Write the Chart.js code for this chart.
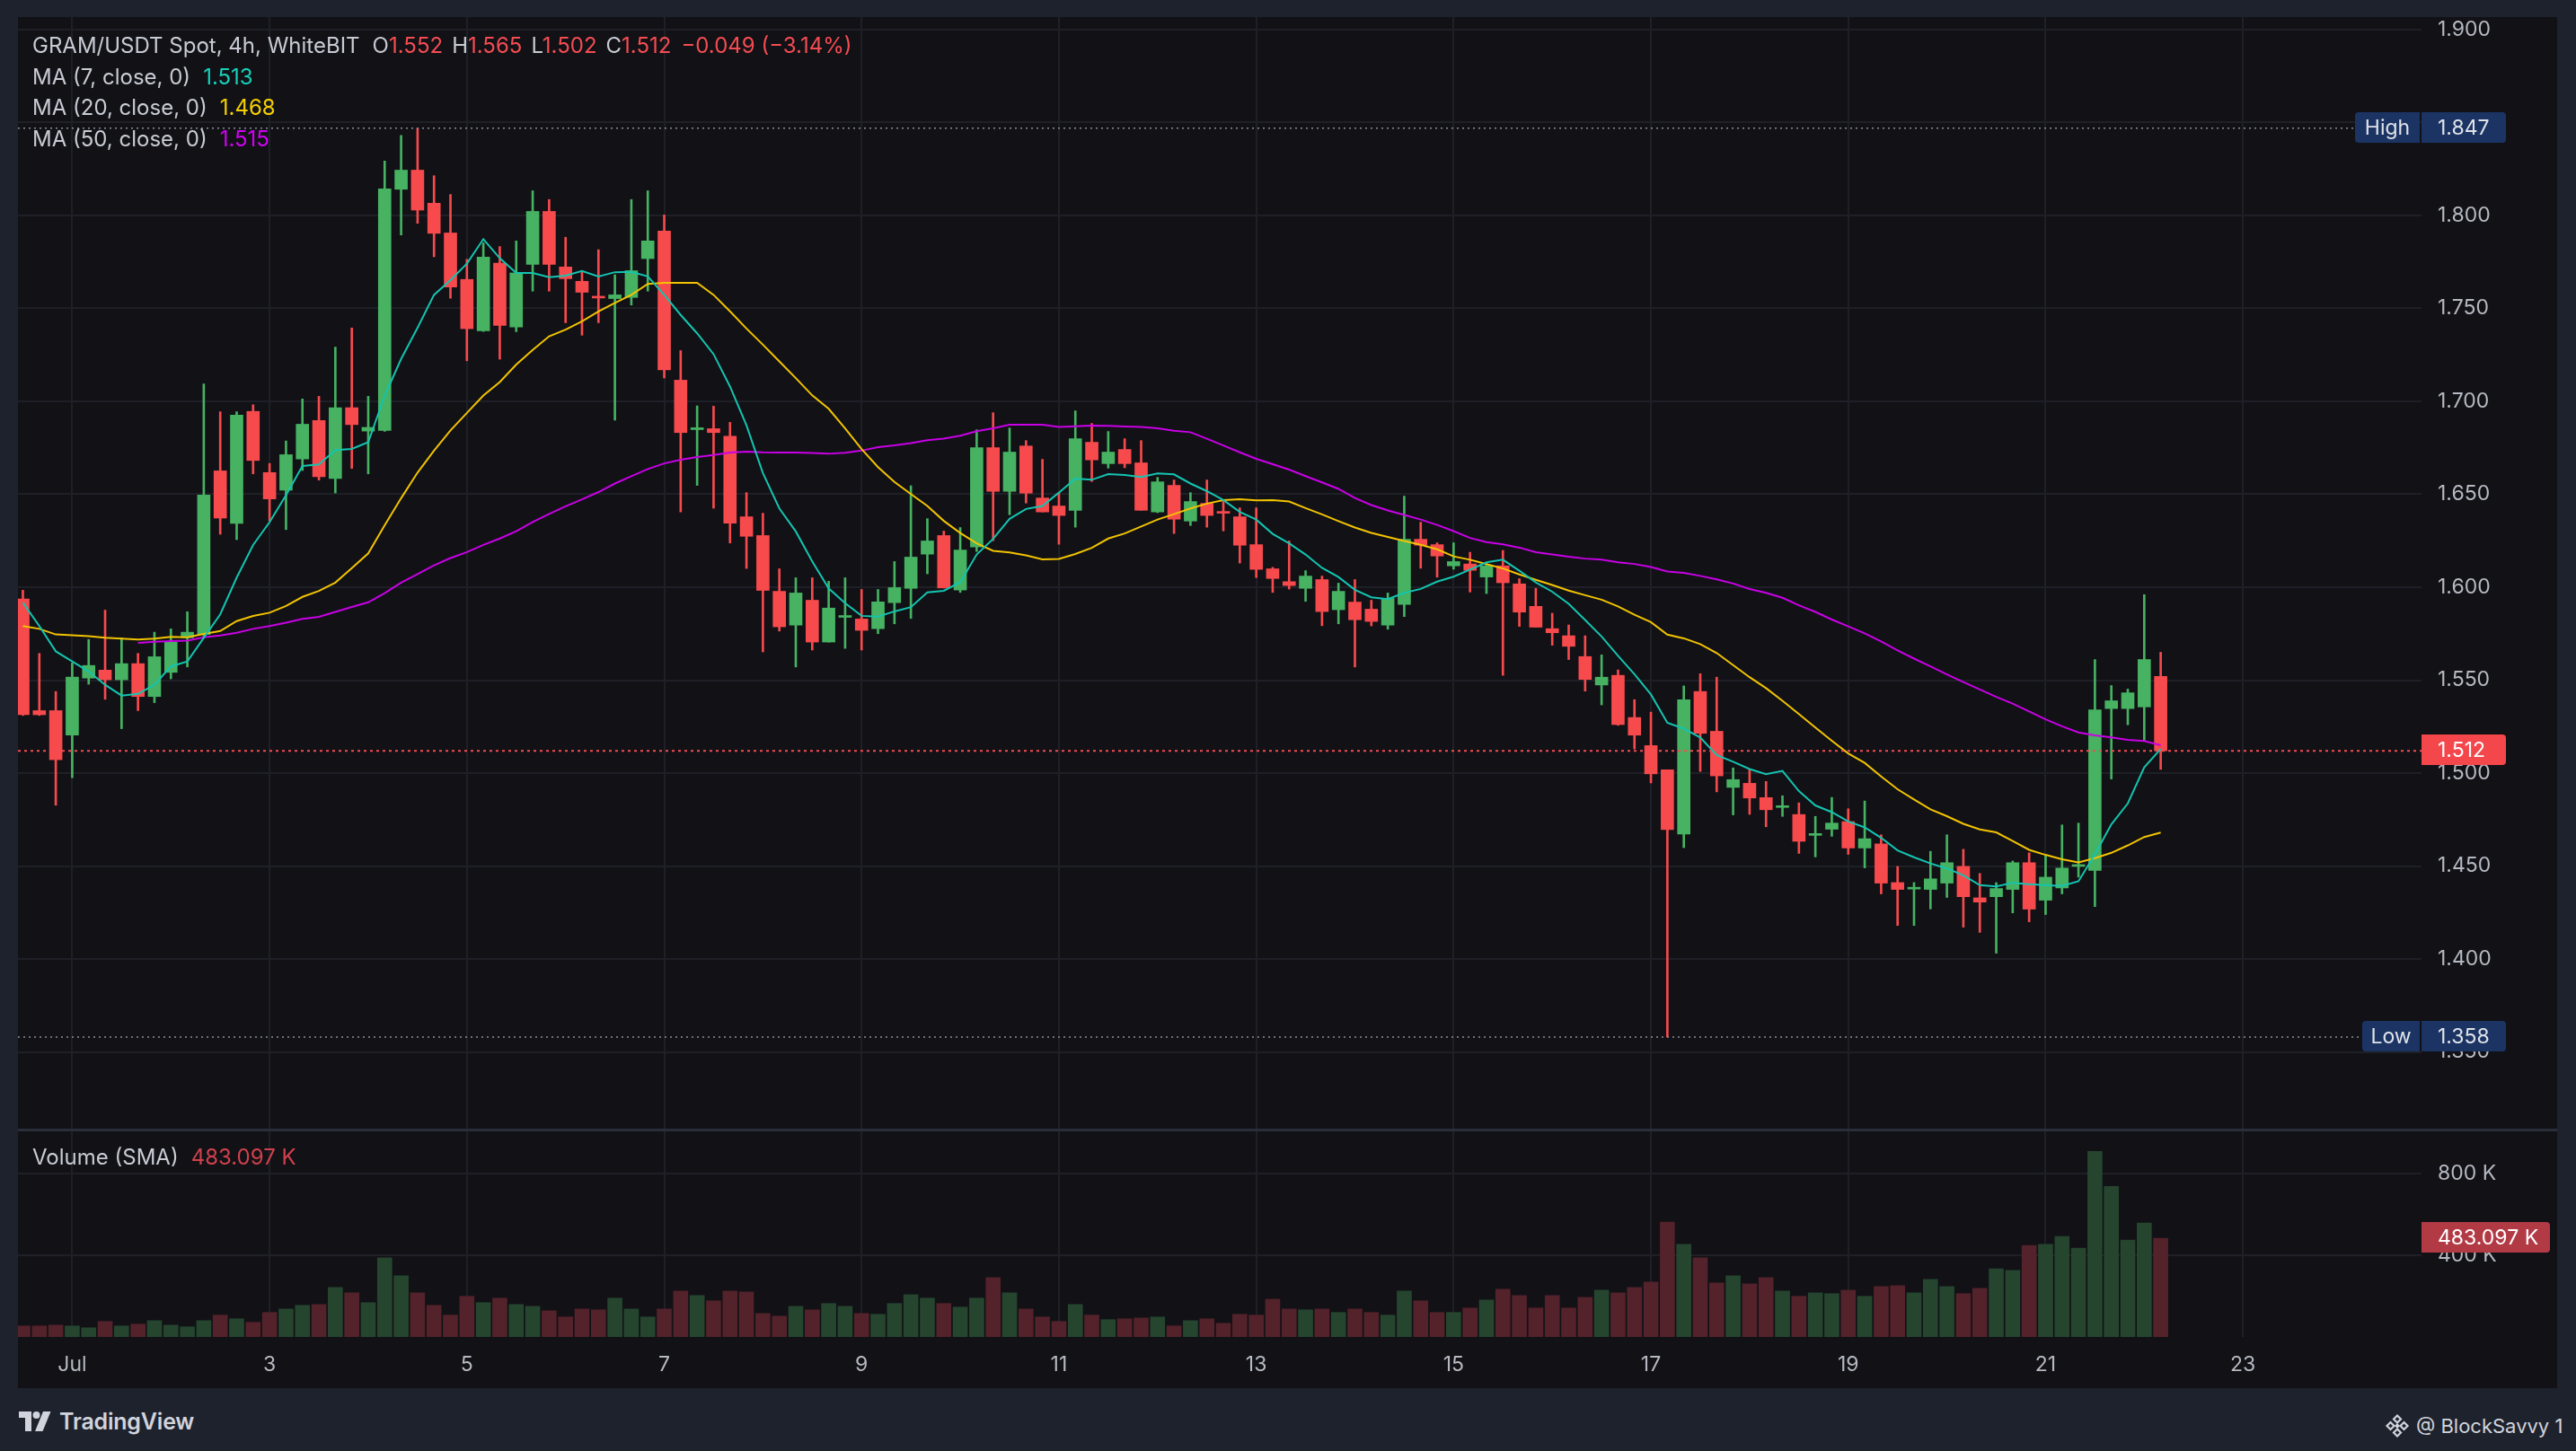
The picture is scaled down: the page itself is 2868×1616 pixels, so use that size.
<!DOCTYPE html>
<html>
<head>
<meta charset="utf-8">
<script src="https://cdn.jsdelivr.net/npm/chart.js@4.4.1/dist/chart.umd.min.js"></script>
<style>
  html, body { margin: 0; padding: 0; }
  body { width: 2868px; height: 1616px; background: #1e222d; position: relative; overflow: hidden;
         font-family: Inter, "Noto Sans", sans-serif; }
  .pane { position: absolute; left: 20px; top: 19px; width: 2827px; height: 1527px; background: #111116; }
  .sep { position: absolute; left: 20px; top: 1257px; width: 2827px; height: 3px; background: #2a2e39; }
  canvas { position: absolute; left: 20px; }
  .legend { position: absolute; left: 36px; top: 34px; font-size: 24px; line-height: 34.5px; color: #c8cbd3; white-space: nowrap; }
  .vol { position: absolute; left: 36px; top: 1272px; font-size: 24px; line-height: 34px; color: #c8cbd3; white-space: nowrap; }
  .r { color: #f44c52; }
  .brand { position: absolute; left: 21px; top: 1568px; height: 30px; display: flex; align-items: center; color: #d1d4dc;
           font-size: 25px; font-weight: 600; letter-spacing: -0.2px; }
  .brand svg { margin-right: 9px; }
  .mark { position: absolute; left: 2655px; top: 1572px; height: 32px; display: flex; align-items: center; color: #d1d4dc;
          font-size: 22px; white-space: nowrap; }
  .mark svg { margin-right: 7px; }
</style>
</head>
<body>
<div class="pane"></div>
<canvas id="price" width="2827" height="1238" style="top:19px"></canvas>
<div class="sep"></div>
<canvas id="volume" width="2827" height="286" style="top:1260px"></canvas>

<div class="legend">
  <div>GRAM/USDT Spot, 4h, WhiteBIT<span style="margin-left:14px">O</span><span class="r">1.552</span><span style="margin-left:10px">H</span><span class="r">1.565</span><span style="margin-left:10px">L</span><span class="r">1.502</span><span style="margin-left:10px">C</span><span class="r">1.512</span><span class="r" style="margin-left:11px">−0.049 (−3.14%)</span></div>
  <div>MA (7, close, 0)<span style="margin-left:14px;color:#17d0b9">1.513</span></div>
  <div>MA (20, close, 0)<span style="margin-left:14px;color:#f5cf00">1.468</span></div>
  <div>MA (50, close, 0)<span style="margin-left:14px;color:#d000f2">1.515</span></div>
</div>
<div class="vol">Volume (SMA)<span style="margin-left:14px;color:#d0414c">483.097 K</span></div>

<div class="brand">
  <svg width="36" height="22" viewBox="0 0 36 22"><path d="M0 0h14v22h-7v-15h-7z" fill="#d1d4dc"/><circle cx="19.5" cy="4" r="4" fill="#d1d4dc"/><path d="M27 0h8.5l-9 22h-8.5z" fill="#d1d4dc"/></svg>
  <span>TradingView</span>
</div>
<div class="mark">
  <svg width="28" height="28" viewBox="0 0 28 28"><g fill="none" stroke="#d1d4dc" stroke-width="2.2"><path d="M14 2.5l4 4-4 4-4-4z"/><path d="M14 17.5l4 4-4 4-4-4z"/><path d="M2.5 14l4-4 4 4-4 4z"/><path d="M17.5 14l4-4 4 4-4 4z"/></g><path d="M14 11l3 3-3 3-3-3z" fill="#d1d4dc"/></svg>
  <span>@ BlockSavvy 1</span>
</div>

<script>
// 4h candles, index 0 = Jun 30 12:00, index 130 = Jul 22 04:00
const opens = [1.5937,1.5336,1.5336,1.5204,1.5511,1.5554,1.5502,1.5589,1.5412,1.5542,
  1.5728,1.5746,1.6626,1.6343,1.6946,1.6617,1.6522,1.6690,1.6897,1.6585,
  1.6966,1.6840,1.6843,1.8141,1.8244,1.8066,1.7906,1.7656,1.7380,1.7743,
  1.7400,1.7737,1.8022,1.7723,1.7646,1.7562,1.7553,1.7559,1.7768,1.7916,
  1.7114,1.6848,1.6853,1.6812,1.6379,1.6278,1.5978,1.5796,1.5930,1.5705,
  1.5838,1.5829,1.5777,1.5917,1.5994,1.6178,1.6278,1.5985,1.6216,1.6751,
  1.6516,1.6760,1.6480,1.6437,1.6414,1.6780,1.6665,1.6741,1.6669,1.6405,
  1.6548,1.6356,1.6451,1.6404,1.6379,1.6229,1.6099,1.6030,1.5994,1.6041,
  1.5879,1.5920,1.5882,1.5796,1.5907,1.6258,1.6229,1.6115,1.6125,1.6055,
  1.6115,1.6018,1.5897,1.5777,1.5739,1.5627,1.5474,1.5526,1.5299,1.5148,
  1.5018,1.4672,1.5439,1.5225,1.4923,1.4945,1.4868,1.4815,1.4777,1.4665,
  1.4698,1.4739,1.4597,1.4619,1.4411,1.4376,1.4374,1.4408,1.4498,1.4329,
  1.4335,1.4374,1.4518,1.4316,1.4382,1.4498,1.4476,1.5347,1.5347,1.5356,
  1.5520];
const highs = [1.5984,1.5644,1.5439,1.5592,1.5719,1.5877,1.5728,1.5644,1.5758,1.5776,
  1.5868,1.7094,1.6944,1.6944,1.6982,1.6666,1.6787,1.7013,1.7027,1.7292,
  1.7395,1.7027,1.8293,1.8431,1.8470,1.8214,1.8113,1.7764,1.7853,1.7833,
  1.7863,1.8133,1.8086,1.7883,1.7701,1.7816,1.7681,1.8086,1.8133,1.8003,
  1.7273,1.6976,1.6974,1.6887,1.6509,1.6398,1.6099,1.6051,1.6051,1.6032,
  1.6051,1.5988,1.5988,1.6138,1.6546,1.6369,1.6302,1.6321,1.6847,1.6939,
  1.6857,1.6789,1.6688,1.6509,1.6949,1.6881,1.6838,1.6799,1.6789,1.6591,
  1.6577,1.6509,1.6577,1.6461,1.6427,1.6427,1.6107,1.6249,1.6089,1.6060,
  1.6022,1.6041,1.5930,1.5969,1.6490,1.6350,1.6239,1.6239,1.6188,1.6125,
  1.6198,1.6046,1.5994,1.5860,1.5797,1.5739,1.5636,1.5555,1.5395,1.5328,
  1.5018,1.5469,1.5535,1.5516,1.5028,1.5018,1.4955,1.4878,1.4840,1.4767,
  1.4869,1.4808,1.4850,1.4668,1.4498,1.4411,1.4579,1.4668,1.4590,1.4460,
  1.4411,1.4527,1.4571,1.4555,1.4721,1.4731,1.5611,1.5471,1.5452,1.5960,
  1.5650];
const lows = [1.5310,1.5310,1.4827,1.4975,1.5478,1.5397,1.5239,1.5336,1.5379,1.5507,
  1.5571,1.5728,1.6285,1.6256,1.6610,1.6357,1.6310,1.6628,1.6576,1.6507,
  1.6639,1.6610,1.6838,1.7895,1.7958,1.7778,1.7555,1.7218,1.7376,1.7227,
  1.7375,1.7593,1.7593,1.7423,1.7356,1.7423,1.6899,1.7518,1.7593,1.7126,
  1.6405,1.6548,1.6425,1.6238,1.6101,1.5652,1.5764,1.5571,1.5662,1.5705,
  1.5671,1.5662,1.5750,1.5803,1.5832,1.6072,1.5996,1.5972,1.6192,1.6250,
  1.6390,1.6453,1.6405,1.6231,1.6323,1.6569,1.6641,1.6643,1.6414,1.6401,
  1.6289,1.6332,1.6323,1.6303,1.6130,1.6052,1.5972,1.5990,1.5924,1.5793,
  1.5803,1.5571,1.5792,1.5774,1.5842,1.6102,1.6054,1.6097,1.5974,1.5966,
  1.5526,1.5789,1.5785,1.5688,1.5611,1.5441,1.5367,1.5257,1.5130,1.4947,
  1.3580,1.4599,1.5009,1.4899,1.4775,1.4778,1.4711,1.4767,1.4568,1.4549,
  1.4660,1.4563,1.4490,1.4350,1.4180,1.4180,1.4269,1.4331,1.4171,1.4143,
  1.4031,1.4248,1.4200,1.4239,1.4350,1.4440,1.4282,1.4968,1.5260,1.5173,
  1.5020];
const closes = [1.5314,1.5314,1.5072,1.5516,1.5579,1.5502,1.5589,1.5412,1.5626,1.5704,
  1.5758,1.6496,1.6372,1.6926,1.6682,1.6475,1.6713,1.6877,1.6594,1.6966,
  1.6875,1.6860,1.8143,1.8244,1.8029,1.7904,1.7615,1.7391,1.7776,1.7409,
  1.7691,1.8022,1.7737,1.7660,1.7587,1.7556,1.7573,1.7703,1.7863,1.7169,
  1.6832,1.6858,1.6832,1.6345,1.6274,1.5983,1.5787,1.5969,1.5705,1.5888,
  1.5843,1.5768,1.5921,1.5998,1.6162,1.6249,1.5996,1.6200,1.6751,1.6516,
  1.6727,1.6506,1.6405,1.6386,1.6799,1.6685,1.6727,1.6665,1.6414,1.6567,
  1.6366,1.6461,1.6386,1.6398,1.6226,1.6096,1.6047,1.6009,1.6060,1.5869,
  1.5978,1.5825,1.5816,1.5940,1.6258,1.6226,1.6168,1.6138,1.6091,1.6115,
  1.6024,1.5866,1.5785,1.5755,1.5682,1.5504,1.5516,1.5261,1.5204,1.4996,
  1.4696,1.5395,1.5214,1.4985,1.4965,1.4866,1.4803,1.4821,1.4633,1.4671,
  1.4731,1.4597,1.4647,1.4408,1.4374,1.4382,1.4431,1.4518,1.4335,1.4306,
  1.4379,1.4518,1.4268,1.4440,1.4489,1.4504,1.5340,1.5389,1.5432,1.5611,
  1.5120];
// volume in thousands
const volumesK = [54,54,58,54,45,76,54,63,80,58,
  50,80,107,89,72,120,137,155,159,242,
  216,168,387,299,216,155,107,199,168,190,
  159,150,128,98,137,133,190,137,98,137,
  225,203,177,225,220,115,102,150,133,164,
  150,115,111,164,207,190,164,146,190,291,
  216,137,98,76,159,107,85,89,93,98,
  54,80,89,67,111,107,185,137,133,137,
  120,137,120,107,225,177,120,120,142,181,
  234,203,142,203,142,194,229,216,242,269,
  562,453,387,264,299,260,291,225,199,216,
  212,229,199,247,251,216,282,247,212,238,
  334,326,448,453,492,435,908,737,474,558,
  483.097];
const ma7 = [1.5917,1.5791,1.5655,1.5601,1.5547,1.5475,1.5417,1.5426,1.5475,1.5574,
  1.5601,1.5728,1.5854,1.6052,1.6227,1.6350,1.6495,1.6652,1.6661,1.6738,
  1.6744,1.6780,1.7030,1.7228,1.7396,1.7573,1.7652,1.7741,1.7873,1.7770,
  1.7691,1.7691,1.7668,1.7676,1.7701,1.7672,1.7695,1.7697,1.7672,1.7573,
  1.7465,1.7366,1.7254,1.7080,1.6871,1.6614,1.6424,1.6300,1.6139,1.5994,
  1.5914,1.5846,1.5842,1.5870,1.5893,1.5972,1.5981,1.6027,1.6176,1.6260,
  1.6368,1.6421,1.6437,1.6509,1.6585,1.6578,1.6609,1.6604,1.6593,1.6612,
  1.6607,1.6558,1.6517,1.6469,1.6405,1.6364,1.6287,1.6236,1.6176,1.6104,
  1.6055,1.5986,1.5946,1.5936,1.5970,1.5991,1.6030,1.6057,1.6095,1.6134,
  1.6148,1.6089,1.6026,1.5976,1.5911,1.5824,1.5735,1.5631,1.5532,1.5423,
  1.5271,1.5239,1.5192,1.5097,1.5061,1.5022,1.4994,1.5012,1.4903,1.4826,
  1.4790,1.4740,1.4708,1.4652,1.4584,1.4547,1.4514,1.4487,1.4450,1.4397,
  1.4390,1.4410,1.4402,1.4397,1.4393,1.4418,1.4563,1.4724,1.4837,1.5031,
  1.5130];
const ma20 = [1.5791,1.5776,1.5746,1.5742,1.5737,1.5728,1.5724,1.5719,1.5724,1.5733,
  1.5731,1.5749,1.5764,1.5818,1.5845,1.5863,1.5899,1.5948,1.5980,1.6025,
  1.6103,1.6182,1.6333,1.6479,1.6617,1.6735,1.6844,1.6938,1.7031,1.7104,
  1.7198,1.7277,1.7350,1.7386,1.7431,1.7484,1.7530,1.7573,1.7632,1.7638,
  1.7638,1.7638,1.7573,1.7484,1.7392,1.7305,1.7215,1.7125,1.7032,1.6960,
  1.6855,1.6743,1.6646,1.6566,1.6501,1.6437,1.6357,1.6292,1.6236,1.6196,
  1.6187,1.6171,1.6150,1.6152,1.6179,1.6212,1.6262,1.6289,1.6327,1.6364,
  1.6393,1.6424,1.6450,1.6469,1.6474,1.6467,1.6469,1.6461,1.6426,1.6392,
  1.6356,1.6321,1.6292,1.6271,1.6249,1.6228,1.6204,1.6166,1.6148,1.6124,
  1.6101,1.6069,1.6040,1.6012,1.5982,1.5957,1.5933,1.5897,1.5852,1.5812,
  1.5745,1.5725,1.5694,1.5646,1.5581,1.5516,1.5457,1.5389,1.5318,1.5245,
  1.5174,1.5106,1.5055,1.4982,1.4913,1.4858,1.4805,1.4768,1.4727,1.4697,
  1.4681,1.4635,1.4587,1.4560,1.4536,1.4519,1.4542,1.4571,1.4611,1.4656,
  1.4680];
const ma50 = [null,null,null,null,null,null,null,1.5700,1.5706,1.5710,
  1.5713,1.5731,1.5740,1.5755,1.5776,1.5791,1.5809,1.5830,1.5841,1.5867,
  1.5894,1.5919,1.5968,1.6025,1.6071,1.6118,1.6157,1.6189,1.6228,1.6262,
  1.6301,1.6351,1.6394,1.6435,1.6473,1.6512,1.6558,1.6597,1.6636,1.6666,
  1.6686,1.6700,1.6711,1.6725,1.6730,1.6726,1.6725,1.6725,1.6722,1.6718,
  1.6723,1.6735,1.6754,1.6763,1.6775,1.6791,1.6799,1.6815,1.6839,1.6855,
  1.6874,1.6874,1.6874,1.6862,1.6866,1.6870,1.6868,1.6865,1.6862,1.6855,
  1.6842,1.6834,1.6799,1.6763,1.6726,1.6691,1.6662,1.6633,1.6598,1.6564,
  1.6529,1.6480,1.6442,1.6413,1.6389,1.6364,1.6335,1.6302,1.6265,1.6243,
  1.6231,1.6213,1.6188,1.6176,1.6164,1.6154,1.6148,1.6134,1.6125,1.6109,
  1.6085,1.6077,1.6061,1.6042,1.6020,1.5990,1.5970,1.5943,1.5903,1.5867,
  1.5826,1.5789,1.5752,1.5708,1.5660,1.5616,1.5574,1.5531,1.5490,1.5450,
  1.5410,1.5374,1.5332,1.5289,1.5252,1.5219,1.5203,1.5192,1.5179,1.5173,
  1.5150];

const dayTicks = [3, 15, 27, 39, 51, 63, 75, 87, 99, 111, 123, 135];
const dayLabels = ['Jul', '3', '5', '7', '9', '11', '13', '15', '17', '19', '21', '23'];
const priceTicks = [1.35, 1.40, 1.45, 1.50, 1.55, 1.60, 1.65, 1.70, 1.75, 1.80, 1.85, 1.90];
const volumeTicks = [400000, 800000];
const periodHigh = 1.847;
const periodLow = 1.358;
const lastPrice = 1.512;
const lastVolume = 483097;

const X_MIN = -0.3, X_MAX = 145.86;
const UP = '#46b262', DOWN = '#f74a4d';
const UP_VOL = '#25452f', DOWN_VOL = '#53222a';
const GRID = '#1f2027';
const AXIS_TEXT = '#b6b9c1';
const AXIS_W = 151;

Chart.defaults.font.family = 'Inter, "Noto Sans", sans-serif';
Chart.defaults.animation = false;

const isUp = opens.map((o, i) => closes[i] >= o);
const bodies = opens.map((o, i) => ({ x: i, y: [o, closes[i]] }));
const wicks = lows.map((l, i) => ({ x: i, y: [l, highs[i]] }));
const series = arr => arr.map((v, i) => ({ x: i, y: v }));
const hline = v => [{ x: X_MIN, y: v }, { x: X_MAX, y: v }];

// boxes on the price axis (High / Low / last price)
const axisBadges = {
  id: 'axisBadges',
  afterDraw(chart, args, opts) {
    const ctx = chart.ctx;
    const area = chart.chartArea;
    const ys = chart.scales.y;
    ctx.save();
    ctx.font = '23px Inter, "Noto Sans", sans-serif';
    ctx.textBaseline = 'middle';
    for (const b of opts.items) {
      const py = Math.round(ys.getPixelForValue(b.value));
      ctx.fillStyle = b.bg;
      ctx.beginPath();
      ctx.roundRect(area.right, py - 18, b.w, 34, [0, 4, 4, 0]);
      ctx.fill();
      ctx.fillStyle = b.fg;
      ctx.textAlign = 'left';
      ctx.fillText(b.text, area.right + 18, py);
      if (b.label) {
        ctx.fillStyle = b.bg;
        ctx.beginPath();
        ctx.roundRect(area.right - 2 - b.lw, py - 18, b.lw, 34, [4, 0, 0, 4]);
        ctx.fill();
        ctx.fillStyle = b.fg;
        ctx.textAlign = 'center';
        ctx.fillText(b.label, area.right - 2 - b.lw / 2, py);
      }
    }
    ctx.restore();
  }
};

const xAxis = (showLabels) => ({
  type: 'linear',
  min: X_MIN,
  max: X_MAX,
  offset: false,
  afterBuildTicks: s => { s.ticks = dayTicks.map(v => ({ value: v })); },
  grid: { color: GRID, lineWidth: 2, drawTicks: false, offset: false },
  border: { display: false },
  ticks: {
    display: showLabels,
    color: AXIS_TEXT,
    font: { size: 23 },
    padding: 17,
    maxRotation: 0,
    autoSkip: false,
    callback: v => dayLabels[dayTicks.indexOf(v)]
  },
  afterFit: s => { s.height = showLabels ? 57 : 0; s.paddingLeft = 0; s.paddingRight = 0; }
});

const yAxis = (min, max, ticks, fmt) => ({
  position: 'right',
  min: min,
  max: max,
  afterBuildTicks: s => { s.ticks = ticks.map(v => ({ value: v })); },
  grid: { color: GRID, lineWidth: 2, drawTicks: false },
  border: { display: false },
  ticks: { color: AXIS_TEXT, font: { size: 23 }, padding: 18, callback: fmt },
  afterFit: s => { s.width = AXIS_W; s.paddingTop = 0; s.paddingBottom = 0; }
});

new Chart(document.getElementById('price'), {
  type: 'bar',
  data: {
    datasets: [
      { type: 'line', data: hline(lastPrice), borderColor: '#f44c52', borderWidth: 2, borderDash: [3, 4],
        pointRadius: 0, order: 0 },
      { type: 'line', data: hline(periodHigh), borderColor: '#8b8e97', borderWidth: 1.5, borderDash: [2, 4],
        pointRadius: 0, order: 0 },
      { type: 'line', data: hline(periodLow), borderColor: '#8b8e97', borderWidth: 1.5, borderDash: [2, 4],
        pointRadius: 0, order: 0 },
      { type: 'line', data: series(ma7), borderColor: '#14c4b0', borderWidth: 2, pointRadius: 0, order: 1 },
      { type: 'line', data: series(ma20), borderColor: '#f2c300', borderWidth: 2, pointRadius: 0, order: 1 },
      { type: 'line', data: series(ma50), borderColor: '#c900e6', borderWidth: 2, pointRadius: 0, order: 1 },
      { data: bodies, backgroundColor: isUp.map(u => u ? UP : DOWN), barThickness: 14, minBarLength: 2,
        grouped: false, order: 2 },
      { data: wicks, backgroundColor: isUp.map(u => u ? UP : DOWN), barThickness: 2,
        grouped: false, order: 3 }
    ]
  },
  options: {
    responsive: false,
    events: [],
    layout: { padding: 0 },
    plugins: {
      legend: { display: false },
      tooltip: { enabled: false },
      axisBadges: {
        items: [
          { value: periodHigh, text: periodHigh.toFixed(3), label: 'High', lw: 72, w: 94, bg: '#1b3464', fg: '#dfe2e8' },
          { value: periodLow, text: periodLow.toFixed(3), label: 'Low', lw: 64, w: 94, bg: '#1b3464', fg: '#dfe2e8' },
          { value: lastPrice, text: lastPrice.toFixed(3), w: 94, bg: '#f4474c', fg: '#ffffff' }
        ]
      }
    },
    scales: {
      x: xAxis(false),
      y: yAxis(1.3087, 1.90676, priceTicks, v => v.toFixed(3))
    }
  },
  plugins: [axisBadges]
});

new Chart(document.getElementById('volume'), {
  type: 'bar',
  data: {
    datasets: [
      { data: volumesK.map((v, i) => ({ x: i, y: v * 1000 })),
        backgroundColor: isUp.map(u => u ? UP_VOL : DOWN_VOL), barThickness: 16 }
    ]
  },
  options: {
    responsive: false,
    events: [],
    layout: { padding: 0 },
    plugins: {
      legend: { display: false },
      tooltip: { enabled: false },
      axisBadges: {
        items: [
          { value: lastVolume, text: (lastVolume / 1000).toFixed(3) + ' K', w: 143, bg: '#b23a45', fg: '#ffffff' }
        ]
      }
    },
    scales: {
      x: xAxis(true),
      y: yAxis(0, 1006000, volumeTicks, v => (v / 1000) + ' K')
    }
  },
  plugins: [axisBadges]
});
</script>
</body>
</html>
